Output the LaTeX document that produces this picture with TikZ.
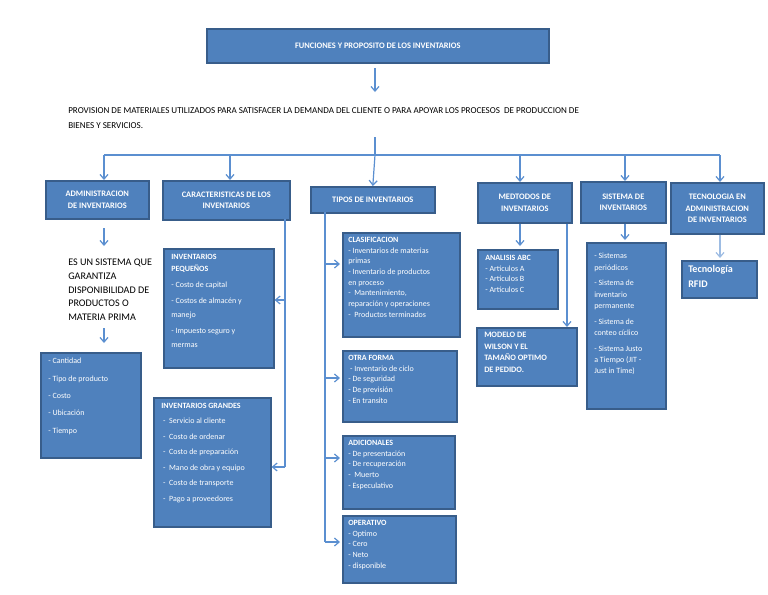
\documentclass[tikz,border=0pt]{standalone}
\usepackage{fontspec}
\setmainfont{Carlito}
\usetikzlibrary{arrows.meta}
\definecolor{bfill}{HTML}{4F81BD}
\definecolor{bdraw}{HTML}{385D8A}
\definecolor{ln}{HTML}{5B8FD0}
\tikzset{
 box/.style={draw=bdraw,fill=bfill,line width=1.2pt,anchor=north west,inner sep=0pt},
 hd/.style={text=white,font=\bfseries\fontsize{6.3}{8.5}\selectfont,align=center},
 tx/.style={text=white,font=\fontsize{6}{8}\selectfont,align=left,anchor=north west,inner sep=0pt},
 ar/.style={draw=ln,line width=0.9pt,-{Straight Barb[length=3.5pt,width=6pt]}},
 li/.style={draw=ln,line width=0.9pt},
}
\newcommand{\bx}[5]{\node[box,minimum width={(#4-#2)*0.75pt},minimum height={(#5-#3)*0.75pt}] (#1) at (#2,#3) {};}
\begin{document}
\begin{tikzpicture}[x=0.75pt,y=-0.75pt]
\useasboundingbox (0,0) rectangle (768,594);
% title
\bx{t}{206}{28}{548}{62}
\node[hd] at (t.center) {FUNCIONES Y PROPOSITO DE LOS INVENTARIOS};
\coordinate (ta) at (375,68); \coordinate (tb) at (375,92);
\draw[ar] (ta) -- (tb);
\node[anchor=north west,inner sep=0pt,font=\fontsize{6.8}{11.5}\selectfont,align=left] (prov) at (68,107) {PROVISION DE MATERIALES UTILIZADOS PARA SATISFACER LA DEMANDA DEL CLIENTE O PARA APOYAR LOS PROCESOS\ \ DE PRODUCCION DE\\BIENES Y SERVICIOS.};
% top boxes
\bx{adm}{45}{180}{148}{218}
\node[hd] at (adm.center) {ADMINISTRACION\\DE INVENTARIOS};
\bx{car}{162}{180}{289}{219}
\node[hd] at (car.center) {CARACTERISTICAS DE LOS\\INVENTARIOS};
\bx{tip}{310}{186}{434}{212}
\node[hd] at (tip.center) {TIPOS DE INVENTARIOS};
\bx{med}{477}{182}{571}{222}
\node[hd] at (med.center) {MEDTODOS DE\\INVENTARIOS};
\bx{sis}{580}{181}{665}{222}
\node[hd] at (sis.center) {SISTEMA DE\\INVENTARIOS};
\bx{tec}{670}{182}{763}{233}
\node[hd] at (tec.center) {TECNOLOGIA EN\\ADMINISTRACION\\DE INVENTARIOS};
% distribution
\coordinate (d0) at (375,137); \coordinate (d1) at (375,155);
\coordinate (hl) at (104,155); \coordinate (hr) at (720,155);
\draw[li] (d0) -- (d1); \draw[li] (hl) -- (hr);
\draw[ar] (hl) -- (adm.north -| hl);
\draw[ar] (230,155) -- (car.north -| 230,0);
\draw[ar] (d1) -- (tip.north);
\draw[ar] (520,155) -- (med.north -| 520,0);
\draw[ar] (625,155) -- (sis.north -| 625,0);
\draw[ar] (hr) -- (tec.north -| hr);
% admin column
\coordinate (a1) at (104,228); \coordinate (a2) at (104,246);
\draw[ar] (a1) -- (a2);
\node[anchor=north west,inner sep=0pt,font=\fontsize{7.6}{10.2}\selectfont,align=left] (es) at (68,259) {ES UN SISTEMA QUE\\GARANTIZA\\DISPONIBILIDAD DE\\PRODUCTOS O\\MATERIA PRIMA};
\coordinate (a3) at (104,328); \coordinate (a4) at (104,343);
\draw[ar] (a3) -- (a4);
\bx{al}{40}{352}{140}{457}
\node[tx,font=\fontsize{6}{13}\selectfont] at (48,358) {- Cantidad\\- Tipo de producto\\- Costo\\- Ubicación\\- Tiempo};
% caracteristicas
\bx{peq}{163}{248}{273}{367}
\node[tx,font=\fontsize{6}{12}\selectfont] at (171,254) {\textbf{INVENTARIOS}\\[-3pt]\textbf{PEQUEÑOS}\\- Costo de capital\\- Costos de almacén y\\[-1.5pt]manejo\\- Impuesto seguro y\\[-1.5pt]mermas};
\bx{gra}{153}{397}{270}{526}
\node[tx,font=\fontsize{6}{11.6}\selectfont] at (161,403) {\textbf{INVENTARIOS GRANDES}\\\ -\ \ Servicio al cliente\\\ -\ \ Costo de ordenar\\\ -\ \ Costo de preparación\\\ -\ \ Mano de obra y equipo\\\ -\ \ Costo de transporte\\\ -\ \ Pago a proveedores};
\coordinate (c0) at (285,219); \coordinate (c1) at (285,467);
\draw[li] (c0) -- (c1);
\draw[ar] (285,300) -- (peq.east |- 0,300);
\draw[ar] (c1) -- (gra.east |- c1);
% tipos
\bx{cla}{342}{232}{459}{336}
\node[tx,font=\fontsize{6}{8}\selectfont] at (348,237) {\textbf{CLASIFICACION}\\- Inventarios de materias\\primas\\- Inventario de productos\\en proceso\\-\ \ Mantenimiento,\\reparación y operaciones\\-\ \ Productos terminados};
\bx{otr}{342}{350}{456}{421}
\node[tx] at (348,355) {\textbf{OTRA FORMA}\\\ - Inventario de ciclo\\- De seguridad\\- De previsión\\- En transito};
\bx{adi}{342}{435}{454}{508}
\node[tx] at (348,440) {\textbf{ADICIONALES}\\- De presentación\\- De recuperación\\-\ \ Muerto\\- Especulativo};
\bx{ope}{342}{515}{455}{582}
\node[tx] at (348,520) {\textbf{OPERATIVO}\\- Optimo\\- Cero\\- Neto\\- disponible};
\coordinate (p0) at (325,212); \coordinate (p1) at (325,542);
\draw[li] (p0) -- (p1);
\draw[ar] (325,264) -- (340,264);
\draw[ar] (325,378) -- (340,378);
\draw[ar] (325,458) -- (340,458);
\draw[ar] (p1) -- (340,542);
% metodos
\draw[ar] (med.south -| 520,0) -- (520,246);
\bx{abc}{477}{249}{557}{308}
\node[tx] at (485,255) {\textbf{ANALISIS ABC}\\- Artículos A\\- Artículos B\\- Artículos C};
\bx{wil}{476}{327}{576}{385}
\node[tx,font=\bfseries\fontsize{6.2}{8.6}\selectfont] at (484,332) {MODELO DE\\WILSON Y EL\\TAMAÑO OPTIMO\\DE PEDIDO.};
\draw[ar] (med.south -| 567,0) -- (wil.north -| 567,0);
% sistema
\draw[ar] (sis.south -| 625,0) -- (625,240);
\bx{sl}{586}{242}{665}{408}
\node[tx,font=\fontsize{6}{8.6}\selectfont] at (594,253) {- Sistemas\\periódicos\\[3pt]- Sistema de\\inventario\\permanente\\[3pt]- Sistema de\\conteo cíclico\\[3pt]- Sistema Justo\\a Tiempo (JIT -\\Just in Time)};
% tecnologia
\draw[ar,draw=ln!60] (tec.south -| hr) -- (720,258);
\bx{rf}{681}{260}{756}{297}
\node[tx,font=\bfseries\fontsize{7.6}{11}\selectfont] at (688,265) {Tecnología\\RFID};
\end{tikzpicture}
\end{document}
